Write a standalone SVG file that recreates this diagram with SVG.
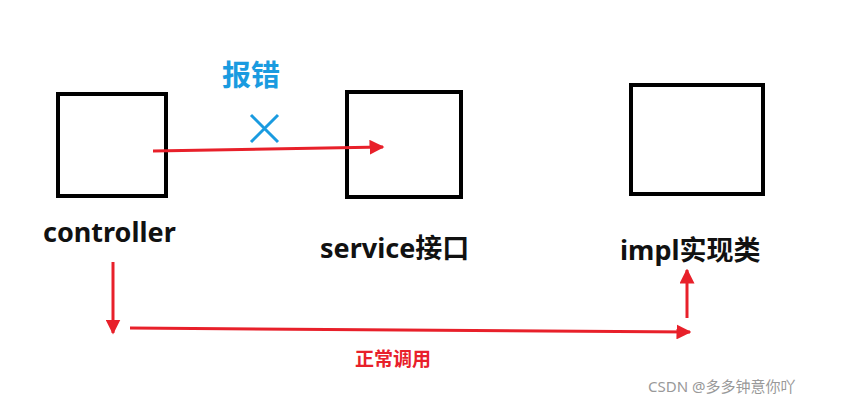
<svg xmlns="http://www.w3.org/2000/svg" width="854" height="406" viewBox="0 0 854 406">
<style>
.box{fill:none;stroke:#000;stroke-width:4}
.lbl{font-family:"Noto Sans","Noto Sans CJK SC",sans-serif;font-weight:bold;font-size:27px;fill:#111}
.red{stroke:#e8202a;stroke-width:3;fill:none}
</style>
<defs>
<marker id="ah" viewBox="0 0 10 10" refX="9" refY="5" markerWidth="5" markerHeight="5" orient="auto"><path d="M0,0 L10,5 L0,10 z" fill="#e8202a"/></marker>
</defs>
<rect width="854" height="406" fill="#fff"/>
<g id="controller"><rect class="box" x="58" y="94" width="108" height="102"/><text class="lbl" x="43" y="242">controller</text></g>
<g id="service"><rect class="box" x="347" y="92" width="114" height="105"/><text class="lbl" x="320" y="258">service接口</text></g>
<g id="impl"><rect class="box" x="631" y="85" width="132" height="109"/><text class="lbl" x="620" y="260">impl实现类</text></g>
<g id="connectors">
<line class="red" x1="153" y1="151" x2="383" y2="147" marker-end="url(#ah)"/>
<line class="red" x1="113" y1="262" x2="113" y2="333" marker-end="url(#ah)"/>
<line class="red" x1="130" y1="328" x2="690" y2="332" marker-end="url(#ah)"/>
<line class="red" x1="687" y1="318" x2="687" y2="270" marker-end="url(#ah)"/>
<path d="M251,115 L278,142 M278,115 L251,142" stroke="#1a9be0" stroke-width="3"/>
<text x="222" y="86" font-family="Noto Sans CJK SC,sans-serif" font-weight="bold" font-size="29" fill="#1a9be0">报错</text>
<text x="355" y="366" font-family="Noto Sans CJK SC,sans-serif" font-weight="bold" font-size="19" fill="#e8202a">正常调用</text>
</g>
<text x="648" y="392" font-family="Noto Sans,Noto Sans CJK SC,sans-serif" font-size="15" fill="#999">CSDN @多多钟意你吖</text>
</svg>
